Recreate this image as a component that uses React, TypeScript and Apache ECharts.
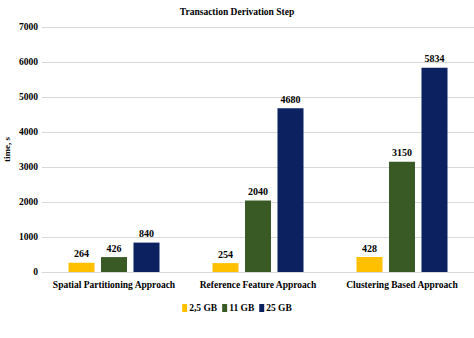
import React, { useEffect, useRef } from "react";
import * as echarts from "echarts";

const categories = ["Spatial Partitioning Approach", "Reference Feature Approach", "Clustering Based Approach"];
const seriesNames = ["2,5 GB", "11 GB", "25 GB"];
const values25 = [264, 254, 428];
const values11 = [426, 2040, 3150];
const values250 = [840, 4680, 5834];
const colors = ["#FFC000", "#3A5A25", "#0B2160"];

const FONT = "Liberation Serif";

export default function App() {
  const ref = useRef<HTMLDivElement>(null);
  useEffect(() => {
    const chart = echarts.init(ref.current!, null, { renderer: "svg" });
    const data = [values25, values11, values250];
    chart.setOption({
      animation: false,
      textStyle: { fontFamily: FONT },
      title: {
        text: "Transaction Derivation Step",
        left: "center",
        top: 2,
        textStyle: { fontFamily: FONT, fontSize: 9.5, fontWeight: "bold", color: "#000" },
      },
      legend: {
        data: seriesNames,
        top: 298,
        left: "center",
        itemWidth: 5,
        itemHeight: 8,
        itemGap: 5,
        icon: "rect",
        textStyle: { fontFamily: FONT, fontSize: 9.5, fontWeight: "bold", color: "#000", padding: [0, 0, 0, -3] },
      },
      grid: { left: 42, right: 0, top: 27, bottom: 66, outerBoundsMode: "none" },
      xAxis: {
        type: "category",
        data: categories,
        axisTick: { show: false },
        axisLine: { lineStyle: { color: "#D9D9D9" } },
        axisLabel: { interval: 0, fontFamily: FONT, fontSize: 9.5, fontWeight: "bold", color: "#000", margin: 8 },
      },
      yAxis: {
        type: "value",
        min: 0,
        max: 7000,
        interval: 1000,
        name: "time, s",
        nameLocation: "middle",
        nameGap: 31,
        nameMoveOverlap: false,
        nameTextStyle: { fontFamily: FONT, fontSize: 9, fontWeight: "bold", color: "#000" },
        axisLabel: {
          fontFamily: FONT,
          fontSize: 9.5,
          fontWeight: "bold",
          color: "#000",
          margin: 4,
          formatter: (v: number) => String(v),
        },
        splitLine: { lineStyle: { color: "#D9D9D9" } },
      },
      series: seriesNames.map((name, i) => ({
        name,
        type: "bar",
        data: data[i],
        barWidth: 26,
        barGap: "25%",
        itemStyle: { color: colors[i] },
        label: {
          show: true,
          position: "top",
          distance: 4,
          fontFamily: FONT,
          fontSize: 10,
          fontWeight: "bold",
          color: "#000",
        },
      })),
    });
    return () => chart.dispose();
  }, []);
  return <div ref={ref} style={{ width: 474, height: 338, position: "absolute", left: 0, top: 0 }} />;
}
